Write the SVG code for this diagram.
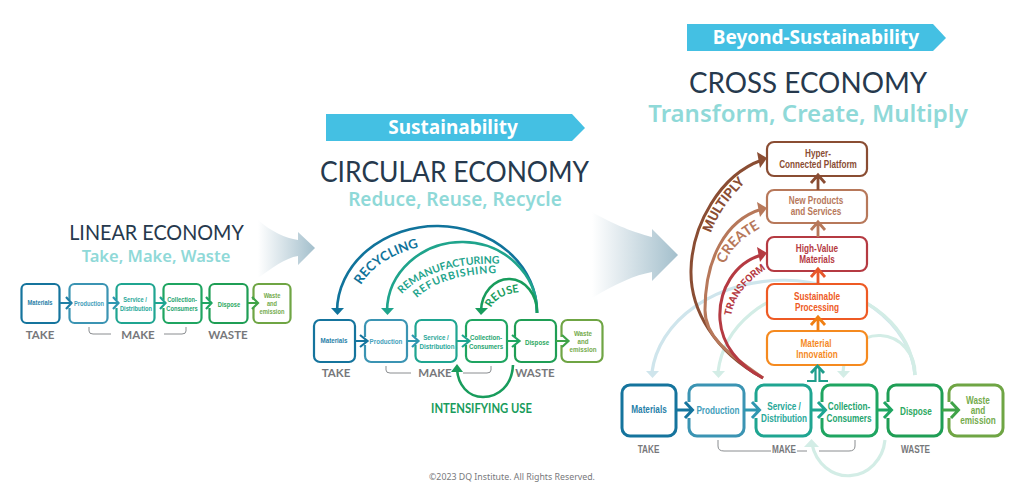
<svg xmlns="http://www.w3.org/2000/svg" width="1024" height="488" viewBox="0 0 1024 488">
<style>
.t{font-family:"Lato","Noto Sans",sans-serif;font-weight:400;fill:#26394d;text-anchor:middle}
.s{font-family:"Noto Sans",sans-serif;font-weight:600;fill:#8fd9d8;text-anchor:middle}
.b{font-family:"Noto Sans",sans-serif;font-weight:700;fill:#fff;text-anchor:middle}
.n{font-family:"Liberation Sans",sans-serif;font-weight:700;text-anchor:middle}
.n1{font-size:7px}.n2{font-size:7.600px}.n3{font-size:10px}
.l{font-family:"Lato",sans-serif;font-weight:700;fill:#77787b;text-anchor:middle;font-size:11.500px}
.box{fill:#fff;stroke-width:2.200}
.box3{fill:#fff;stroke-width:3}
.a{fill:none}
.c{font-family:"Lato",sans-serif;font-weight:700}
.r{font-family:"Roboto",sans-serif;font-weight:700}
.g{fill:none;stroke:#8a8d90;stroke-width:1}
.gap{stroke:#fff;fill:none}
</style>
<defs>
<linearGradient id="ar1" x1="0" x2="1" y1="0" y2="0"><stop offset="0" stop-color="#a5bfcc" stop-opacity="0"/><stop offset="1" stop-color="#a3bfcc"/></linearGradient>
<path id="p-rec" d="M361 285C372 266 395 252 424 246"/>
<path id="p-rem" d="M402 294C420 275 455 261 505 264"/>
<path id="p-ref" d="M417 298C432 283 460 274 494 273"/>
<path id="p-reu" d="M491 308C495 299 505 293 522 292"/>
<path id="p-mul" d="M711 233C717 216 728 198 752 176"/>
<path id="p-cre" d="M725 264C730 250 742 238 762 227"/>
<path id="p-tra" d="M731 316C734 298 745 282 772 265"/>
</defs>

<g id="flow-arrows">
<path d="M258 220C272 232 285 238 298 240L298 232L315 248L298 265L298 256C285 258 272 268 258 278Z" fill="url(#ar1)"/>
<path d="M592 212C620 228 640 234 652 237L652 229L678 255L652 281L652 272C635 275 615 284 592 298Z" fill="url(#ar1)"/>
</g>

<g id="connectors">
<path class="g" d="M89 327V331Q89 334 93 334H111M164 334H182Q186 334 186 331V327"/>
<path class="g" d="M386 366V370Q386 373 390 373H411M463 373H487Q491 373 491 370V366"/>
<path class="a" d="M537 313A100 86 0 0 0 337 311" stroke="#10739b" stroke-width="2.600"/>
<path d="M331 308L344 308L337.500 315Z" fill="#10739b"/>
<path class="a" d="M537 313A75 70 0 0 0 387 311" stroke="#1fa48c" stroke-width="2.600"/>
<path d="M381 308L394 308L387.500 315Z" fill="#1fa48c"/>
<path class="a" d="M537 313A28 33 0 0 0 481 311" stroke="#189c5c" stroke-width="2.600"/>
<path d="M475 308L488 308L481 315Z" fill="#189c5c"/>
<path class="a" d="M513 365C512 386 498 397 483 397C468 397 458 385 457 369" stroke="#189c5c" stroke-width="2.600"/>
<path d="M451 372L463 372L457 364Z" fill="#189c5c"/>
<g class="a" stroke-width="3.200">
<path d="M915 375A132 102 0 0 0 652 372" stroke="#cfe5ec"/>
<path d="M915 375A99 92 0 0 0 718 372" stroke="#d3ede6"/>
<path d="M915 375A36 38 0 0 0 843 372" stroke="#d3ede6"/>
<path d="M885 440A37 40 0 0 1 812 444" stroke="#d3ede6"/>
</g>
<path d="M646 371H659L652.500 378Z" fill="#cfe5ec"/>
<path d="M712 371H725L718.500 378Z" fill="#d3ede6"/>
<path d="M837 371H850L843.500 378Z" fill="#d3ede6"/>
<path d="M804 447H819L811.500 439Z" fill="#d3ede6"/>
<path class="g" d="M718 440V446Q718 451 724 451H771M797 451H807M819 451H849Q855 451 855 446V440" stroke-width="1.200"/>
<g class="a" stroke-width="3">
<path d="M763 378C715 352 690 310 691 270C692 225 720 175 762 160" stroke="#8a4d33"/>
<path d="M763 378C725 352 705 335 705 310C705 260 725 220 762 209" stroke="#b7785a"/>
<path d="M763 378C738 365 722 345 720 320C718 290 735 262 762 255" stroke="#b53a42"/>
</g>
<path d="M757 152L767 158L760 168Z" fill="#8a4d33"/>
<path d="M757 202L767 208L760 217Z" fill="#b7785a"/>
<path d="M757 247L767 253L760 262Z" fill="#b53a42"/>
</g>

<g id="badge-sustainability"><path d="M326 114H572L585 128L572 141H326Z" fill="#44c0e3"/><text class="b" x="453" y="134" font-size="19">Sustainability</text></g>
<g id="badge-beyond"><path d="M687 24H933L946 38L933 51H687Z" fill="#44c0e3"/><text class="b" x="816" y="44" font-size="19">Beyond-Sustainability</text></g>

<g id="title-linear"><text class="t" transform="translate(156.500 240) scale(.9 1)" font-size="22">LINEAR ECONOMY</text><text class="s" x="156" y="262" font-size="16.500">Take, Make, Waste</text></g>
<g id="title-circular"><text class="t" transform="translate(454.500 182) scale(.9 1)" font-size="29.400">CIRCULAR ECONOMY</text><text class="s" x="455" y="206" font-size="19">Reduce, Reuse, Recycle</text></g>
<g id="title-cross"><text class="t" transform="translate(808 93) scale(.95 1)" font-size="29.300">CROSS ECONOMY</text><text class="s" x="808" y="122" font-size="24">Transform, Create, Multiply</text></g>

<g id="linear-materials"><rect class="box" x="21.500" y="284" width="38" height="39" rx="5" stroke="#15749d"/><text class="n n1" transform="translate(40 305) scale(.82 1)" fill="#2780a8">Materials</text></g>
<g id="linear-production"><rect class="box" x="69.500" y="284" width="38" height="39" rx="5" stroke="#3b94b3"/><text class="n n1" transform="translate(89 306) scale(.82 1)" fill="#44a0bb">Production</text></g>
<g id="linear-service"><rect class="box" x="116.500" y="284" width="38" height="39" rx="5" stroke="#1fa591"/><text class="n n1" transform="translate(135 302) scale(.82 1)" fill="#2aa899">Service /</text><text class="n n1" transform="translate(136 311) scale(.82 1)" fill="#2aa899">Distribution</text></g>
<g id="linear-collection"><rect class="box" x="163.500" y="284" width="38" height="39" rx="5" stroke="#1fa561"/><text class="n n1" transform="translate(182 302) scale(.82 1)" fill="#1fa56f">Collection-</text><text class="n n1" transform="translate(182 311) scale(.82 1)" fill="#1fa56f">Consumers</text></g>
<g id="linear-dispose"><rect class="box" x="209.500" y="284" width="38" height="39" rx="5" stroke="#1f9e55"/><text class="n n1" transform="translate(229 307) scale(.82 1)" fill="#2ba860">Dispose</text></g>
<g id="linear-waste"><rect class="box" x="253.500" y="284" width="37" height="39" rx="5" stroke="#6fa544"/><text class="n n1" transform="translate(272 298) scale(.82 1)" fill="#74ab4c">Waste</text><text class="n n1" transform="translate(272 306) scale(.82 1)" fill="#74ab4c">and</text><text class="n n1" transform="translate(272 314) scale(.82 1)" fill="#74ab4c">emission</text></g>
<g id="linear-labels"><text class="l" x="40" y="339">TAKE</text><text class="l" x="138" y="339">MAKE</text><text class="l" x="228" y="339">WASTE</text></g>

<g id="circular-materials"><rect class="box" x="314" y="320" width="41" height="42" rx="6" stroke="#15749d"/><text class="n n2" transform="translate(334 343) scale(.82 1)" fill="#2780a8">Materials</text></g>
<g id="circular-production"><rect class="box" x="365" y="320" width="42" height="42" rx="6" stroke="#3b94b3"/><text class="n n2" transform="translate(386 344) scale(.82 1)" fill="#44a0bb">Production</text></g>
<g id="circular-service"><rect class="box" x="415.500" y="320" width="41" height="42" rx="6" stroke="#1fa591"/><text class="n n2" transform="translate(436 340) scale(.82 1)" fill="#2aa899">Service /</text><text class="n n2" transform="translate(437 349) scale(.82 1)" fill="#2aa899">Distribution</text></g>
<g id="circular-collection"><rect class="box" x="466" y="320" width="41" height="42" rx="6" stroke="#1fa561"/><text class="n n2" transform="translate(486 340) scale(.82 1)" fill="#1fa56f">Collection-</text><text class="n n2" transform="translate(486 349) scale(.82 1)" fill="#1fa56f">Consumers</text></g>
<g id="circular-dispose"><rect class="box" x="515" y="320" width="41" height="42" rx="6" stroke="#1f9e55"/><text class="n n2" transform="translate(537 345) scale(.82 1)" fill="#2ba860">Dispose</text></g>
<g id="circular-waste"><rect class="box" x="561.500" y="320" width="41" height="42" rx="6" stroke="#6fa544"/><text class="n n2" transform="translate(583 336) scale(.82 1)" fill="#74ab4c">Waste</text><text class="n n2" transform="translate(583 344) scale(.82 1)" fill="#74ab4c">and</text><text class="n n2" transform="translate(583 352) scale(.82 1)" fill="#74ab4c">emission</text></g>
<g id="circular-labels"><text class="l" x="336" y="377">TAKE</text><text class="l" x="435" y="377">MAKE</text><text class="l" x="535" y="377">WASTE</text>
<text class="c" transform="translate(481.500 413) scale(.9 1)" font-size="12.500" fill="#189c5c" text-anchor="middle">INTENSIFYING USE</text>
<text class="c" font-size="13" fill="#10739b"><textPath href="#p-rec">RECYCLING</textPath></text>
<text class="c" font-size="10.500" fill="#1fa48c"><textPath href="#p-rem">REMANUFACTURING</textPath></text>
<text class="c" font-size="10.500" fill="#1fa48c" letter-spacing=".8"><textPath href="#p-ref">REFURBISHING</textPath></text>
<text class="c" font-size="11" fill="#189c5c"><textPath href="#p-reu">REUSE</textPath></text></g>

<g id="cross-hyper"><rect class="box" x="767" y="142" width="100" height="34" rx="7" stroke="#8a4d33"/><text class="n n3" transform="translate(818 157) scale(.82 1)" fill="#8a4d33">Hyper-</text><text class="n n3" transform="translate(818 167.500) scale(.82 1)" fill="#8a4d33">Connected Platform</text></g>
<g id="cross-new"><rect class="box" x="767" y="190" width="100" height="33" rx="7" stroke="#b7785a"/><text class="n n3" transform="translate(816 204) scale(.82 1)" fill="#b7785a">New Products</text><text class="n n3" transform="translate(816 215) scale(.82 1)" fill="#b7785a">and Services</text></g>
<g id="cross-high"><rect class="box" x="767" y="237" width="100" height="34" rx="7" stroke="#b53a42"/><text class="n n3" transform="translate(817 252) scale(.82 1)" fill="#b53a42">High-Value</text><text class="n n3" transform="translate(817 262.500) scale(.82 1)" fill="#b53a42">Materials</text></g>
<g id="cross-sustainable"><rect class="box" x="767" y="284" width="100" height="35" rx="7" stroke="#ee5a24"/><text class="n n3" transform="translate(817 300) scale(.82 1)" fill="#ee5a24">Sustainable</text><text class="n n3" transform="translate(817 311) scale(.82 1)" fill="#ee5a24">Processing</text></g>
<g id="cross-innovation"><rect class="box" x="767" y="331" width="100" height="34" rx="7" stroke="#f58a1f"/><text class="n n3" transform="translate(816 347) scale(.82 1)" fill="#f58a1f">Material</text><text class="n n3" transform="translate(817 357.500) scale(.82 1)" fill="#f58a1f">Innovation</text></g>

<g id="cross-materials"><rect class="box3" x="622" y="385" width="54" height="51" rx="8" stroke="#15749d"/><text class="n n3" transform="translate(649 413) scale(.82 1)" fill="#2780a8">Materials</text></g>
<g id="cross-production"><rect class="box3" x="689" y="385" width="55" height="51" rx="8" stroke="#3b94b3"/><text class="n n3" transform="translate(718 414) scale(.82 1)" fill="#44a0bb">Production</text></g>
<g id="cross-service"><rect class="box3" x="756" y="385" width="55" height="51" rx="8" stroke="#1fa591"/><text class="n n3" transform="translate(784 410) scale(.82 1)" fill="#2aa899">Service /</text><text class="n n3" transform="translate(784 421.500) scale(.82 1)" fill="#2aa899">Distribution</text></g>
<g id="cross-collection"><rect class="box3" x="822" y="385" width="55" height="51" rx="8" stroke="#1fa561"/><text class="n n3" transform="translate(849 410) scale(.82 1)" fill="#1fa56f">Collection-</text><text class="n n3" transform="translate(849 421.500) scale(.82 1)" fill="#1fa56f">Consumers</text></g>
<g id="cross-dispose"><rect class="box3" x="888" y="385" width="54" height="51" rx="8" stroke="#1f9e55"/><text class="n n3" transform="translate(916 415) scale(.82 1)" fill="#2ba860">Dispose</text></g>
<g id="cross-waste"><rect class="box3" x="949" y="385" width="54" height="51" rx="8" stroke="#6fa544"/><text class="n n3" transform="translate(978 404) scale(.82 1)" fill="#74ab4c">Waste</text><text class="n n3" transform="translate(978 414) scale(.82 1)" fill="#74ab4c">and</text><text class="n n3" transform="translate(978 424) scale(.82 1)" fill="#74ab4c">emission</text></g>
<g id="cross-labels"><text class="n n3" transform="translate(648.500 453) scale(.82 1)" fill="#77787b">TAKE</text><text class="n n3" transform="translate(784 453) scale(.82 1)" fill="#77787b">MAKE</text><text class="n n3" transform="translate(915.500 453) scale(.82 1)" fill="#77787b">WASTE</text>
<text class="r" font-size="13.500" fill="#8a4d33"><textPath href="#p-mul">MULTIPLY</textPath></text>
<text class="c" font-size="14" fill="#b7785a"><textPath href="#p-cre">CREATE</textPath></text>
<text class="r" font-size="10" fill="#b53a42"><textPath href="#p-tra">TRANSFORM</textPath></text></g>

<g id="connectors-front">
<g class="gap" stroke-width="4">
<path d="M69.500 300V308M116.500 300V308M163.500 300V308M209.500 300V308M253.500 300V308"/>
<path d="M365 337V345M415.500 337V345M466 337V345M515 337V345M561.500 337V345"/>
<path d="M689 402V418M756 402V418M822 402V418M888 402V418M949 402V418"/>
</g>
<g class="a" stroke-width="2.200">
<path d="M60 303H70M66 297L71.500 303L66 309" stroke="#1f7fa6"/>
<path d="M108 303H117M113 297L118.500 303L113 309" stroke="#2f97b0"/>
<path d="M155 303H164M160 297L165.500 303L160 309" stroke="#1fa591"/>
<path d="M202 303H210M206 297L211.500 303L206 309" stroke="#1fa561"/>
<path d="M248 303H257M252 297L258 303L252 309" stroke="#3fa348"/>
<path d="M355 341H366M360 335L367.500 341L360 347" stroke="#15749d"/>
<path d="M407 341H417M412 335L418.500 341L412 347" stroke="#2f97b0"/>
<path d="M457 341H468M462 335L469.500 341L462 347" stroke="#1fa591"/>
<path d="M507 341H518M512 335L519.500 341L512 347" stroke="#1fa561"/>
<path d="M556 341H567M562 335L568.500 341L562 347" stroke="#3fa348"/>
</g>
<g class="a" stroke-width="3">
<path d="M676 410H691M685 402L692.500 410L685 418" stroke="#15749d"/>
<path d="M744 410H758M752 402L759.500 410L752 418" stroke="#2f97b0"/>
<path d="M811 410H824M818 402L825.500 410L818 418" stroke="#1fa591"/>
<path d="M877 410H890M884 402L891.500 410L884 418" stroke="#1fa561"/>
<path d="M942 410H957M951 402L958.500 410L951 418" stroke="#3fa348"/>
</g>
<g class="a" stroke-width="2.800">
<path d="M818 177V190M811 183L818 175L825 183" stroke="#8a4d33"/>
<path d="M818 224V237M811 230L818 222L825 230" stroke="#b7785a"/>
<path d="M818 271V284M811 277L818 269L825 277" stroke="#e8562a"/>
<path d="M818 319V331M811 325L818 317L825 325" stroke="#f07f13"/>
<path d="M811 373L817.500 366L824 373" stroke="#1f9d8b"/>
<path d="M807 381H815.500V368M828 381H819.500V368" stroke="#1f9d8b" stroke-width="2.200"/>
</g>
</g>

<text id="copyright" x="512" y="480" font-family="Noto Sans,sans-serif" font-size="8.800" fill="#77787b" text-anchor="middle">©2023 DQ Institute. All Rights Reserved.</text>
</svg>
